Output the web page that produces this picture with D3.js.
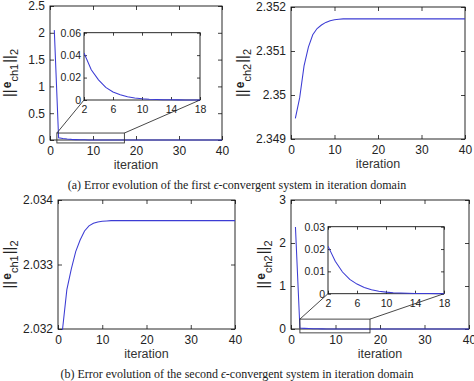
<!DOCTYPE html>
<html><head><meta charset="utf-8">
<script src="https://cdn.jsdelivr.net/npm/d3@7"></script>
<style>
body{margin:0;background:#fff;}
svg{display:block;}
</style></head>
<body>
<svg id="c" width="474" height="381"></svg>
<script>
// ---------------- DATA ----------------
const iterations = [1,2,3,4,5,6,7,8,9,10,11,12,13,14,15,16,17,18,19,20,
  21,22,23,24,25,26,27,28,29,30,31,32,33,34,35,36,37,38,39,40];

// (a) first system, ||e_ch1||_2
const ech1A = [2.05,0.042,0.027,0.018,0.0113,0.0072,0.0047,0.0029,0.0018,0.0011,
  0.0007,0.00045,0.0003,0.0002,0.00012,0.00008,0.00005,0.00003,0.00002,0.00001,
  0,0,0,0,0,0,0,0,0,0,0,0,0,0,0,0,0,0,0,0];
// (a) first system, ||e_ch2||_2
const ech2A = [2.34947,2.34994,2.35066,2.35109,2.35137,2.35151,2.35159,2.35165,2.35169,2.35171,
  2.35172,2.35173,2.35173,2.35173,2.35173,2.35173,2.35173,2.35173,2.35173,2.35173,
  2.35173,2.35173,2.35173,2.35173,2.35173,2.35173,2.35173,2.35173,2.35173,2.35173,
  2.35173,2.35173,2.35173,2.35173,2.35173,2.35173,2.35173,2.35173,2.35173,2.35173];
// (b) second system, ||e_ch1||_2
const ech1B = [2.03198,2.03261,2.03293,2.03320,2.03338,2.03352,2.03360,2.03364,2.03366,2.03367,
  2.033675,2.03368,2.03368,2.03368,2.03368,2.03368,2.03368,2.03368,2.03368,2.03368,
  2.03368,2.03368,2.03368,2.03368,2.03368,2.03368,2.03368,2.03368,2.03368,2.03368,
  2.03368,2.03368,2.03368,2.03368,2.03368,2.03368,2.03368,2.03368,2.03368,2.03368];
// (b) second system, ||e_ch2||_2
const ech2B = [2.37,0.0213,0.0145,0.0097,0.0064,0.0043,0.0028,0.0018,0.0011,0.0007,
  0.00045,0.0003,0.0002,0.00012,0.00008,0.00005,0.00003,0.00002,0.00001,0,
  0,0,0,0,0,0,0,0,0,0,0,0,0,0,0,0,0,0,0,0];

const xTicks = [0,10,20,30,40];
const insetXTicks = [2,6,10,14,18];
const yTicksA1 = [0,0.5,1,1.5,2,2.5];
const yTicksA2 = [2.349,2.35,2.351,2.352];
const yTicksB1 = [2.032,2.033,2.034];
const yTicksB2 = [0,1,2,3];
const insetYTicksA = [0,0.02,0.04,0.06];
const insetYTicksB = [0,0.01,0.02,0.03];
const captions = [
  "(a) Error evolution of the first ",
  "-convergent system in iteration domain",
  "(b) Error evolution of the second "
];

// ---------------- DRAWING ----------------
const svg = d3.select("#c");
const SANS = "'Liberation Sans', Arial, sans-serif";
const SERIF = "'Liberation Serif', 'Times New Roman', serif";
const LINE = "#3c3cd4";
let clipId = 0;

function drawAxes(g, x, y, xt, yt, fs, padX, padY, tick) {
  const [x0,x1] = x.range(), [y0,y1] = y.range();
  const fmt = d => String(+d.toFixed(4));
  const mk = (ax, tr, labels, pad) => {
    const a = g.append("g").attr("transform", tr).call(ax.tickSize(-tick).tickPadding(pad).tickFormat(labels ? fmt : ""));
    a.select(".domain").remove();
    a.selectAll("line").attr("stroke","#111").attr("stroke-width",0.8);
    a.selectAll("text").attr("font-family",SANS).attr("font-size",fs).attr("fill","#222");
  };
  mk(d3.axisBottom(x).tickValues(xt), `translate(0,${y0})`, true, padX);
  mk(d3.axisTop(x).tickValues(xt), `translate(0,${y1})`, false, 0);
  mk(d3.axisLeft(y).tickValues(yt), `translate(${x0},0)`, true, padY);
  mk(d3.axisRight(y).tickValues(yt), `translate(${x1},0)`, false, 0);
  g.append("rect").attr("x",x0).attr("y",y1).attr("width",x1-x0).attr("height",y0-y1)
    .attr("fill","none").attr("stroke","#111").attr("stroke-width",0.9);
}

function drawLine(g, x, y, xs, ys) {
  const id = "clip"+(clipId++);
  const [x0,x1] = x.range(), [y0,y1] = y.range();
  svg.append("defs").append("clipPath").attr("id",id).append("rect")
    .attr("x",x0).attr("y",y1-1).attr("width",x1-x0).attr("height",y0-y1+2);
  const pts = xs.map((v,i)=>[v, ys[i]]).filter(p => p[0] >= x.domain()[0] && p[0] <= x.domain()[1]);
  g.append("path").attr("clip-path",`url(#${id})`)
    .attr("d", d3.line().x(d=>x(d[0])).y(d=>y(d[1]))(pts))
    .attr("fill","none").attr("stroke",LINE).attr("stroke-width",1.05);
}

function yLabel(g, cx, cy, sub) {
  const t = g.append("text").attr("transform",`translate(${cx},${cy}) rotate(-90)`)
    .attr("text-anchor","middle").attr("font-family",SANS).attr("fill","#222");
  t.append("tspan").attr("font-size",15).text("||");
  t.append("tspan").attr("font-size",12).attr("font-weight","bold").attr("dx",1).attr("dy",-3).text("e");
  t.append("tspan").attr("font-size",11).attr("dy",7).text(sub);
  t.append("tspan").attr("font-size",15).attr("dx",1).attr("dy",-4).text("||");
  t.append("tspan").attr("font-size",11).attr("dy",4).text("2");
}

function xLabel(g, cx, cy) {
  g.append("text").attr("x",cx).attr("y",cy).attr("text-anchor","middle")
    .attr("font-family",SANS).attr("font-size",12.5).attr("fill","#333").text("iteration");
}

function panel(opt) {
  const g = svg.append("g");
  const x = d3.scaleLinear().domain([0,40]).range([opt.box[0], opt.box[1]]);
  const y = d3.scaleLinear().domain(opt.ydom).range([opt.box[3], opt.box[2]]);
  drawAxes(g, x, y, xTicks, opt.yticks, 12, 6, 5, 4);
  drawLine(g, x, y, iterations, opt.values);
  xLabel(g, (opt.box[0]+opt.box[1])/2, opt.box[3]+29);
  yLabel(g, opt.ylx, (opt.box[2]+opt.box[3])/2, opt.sub);
  if (opt.inset) {
    const ins = opt.inset;
    const r = ins.rect;
    g.append("rect").attr("x",x(r[0])).attr("y",y(r[3])).attr("width",x(r[1])-x(r[0])).attr("height",y(r[2])-y(r[3]))
      .attr("fill","none").attr("stroke","#333").attr("stroke-width",0.9);
    const ix = d3.scaleLinear().domain([2,18]).range([ins.box[0], ins.box[1]]);
    const iy = d3.scaleLinear().domain(ins.ydom).range([ins.box[3], ins.box[2]]);
    g.append("line").attr("x1",x(r[0])).attr("y1",y(r[3])).attr("x2",ins.box[0]).attr("y2",ins.box[3])
      .attr("stroke","#333").attr("stroke-width",0.9);
    g.append("line").attr("x1",x(r[1])).attr("y1",y(r[3])).attr("x2",ins.box[1]).attr("y2",ins.box[3])
      .attr("stroke","#333").attr("stroke-width",0.9);
    g.append("rect").attr("x",ins.box[0]).attr("y",ins.box[2]).attr("width",ins.box[1]-ins.box[0])
      .attr("height",ins.box[3]-ins.box[2]).attr("fill","#fff");
    drawAxes(g, ix, iy, insetXTicks, ins.yticks, 10.5, 6, 3, 3);
    drawLine(g, ix, iy, iterations, opt.values);
  }
}

panel({box:[50,222,6,140], ydom:[0,2.5], yticks:yTicksA1, values:ech1A, ylx:14, sub:"ch1",
  inset:{box:[84,200,32.7,100], ydom:[0,0.06], yticks:insetYTicksA, rect:[1.6,17.3,-0.055,0.13]}});
panel({box:[291,465,7,139], ydom:[2.349,2.352], yticks:yTicksA2, values:ech2A, ylx:247, sub:"ch2"});
panel({box:[58,235,200,329], ydom:[2.032,2.034], yticks:yTicksB1, values:ech1B, ylx:14, sub:"ch1"});
panel({box:[291,469,200,329], ydom:[0,3], yticks:yTicksB2, values:ech2B, ylx:268, sub:"ch2",
  inset:{box:[328,444,226.7,293.7], ydom:[0,0.03], yticks:insetYTicksB, rect:[2.0,17.75,-0.09,0.23]}});

function caption(cx, by, first) {
  const t = svg.append("text").attr("x",cx).attr("y",by).attr("text-anchor","middle")
    .attr("font-family",SERIF).attr("font-size",12).attr("fill","#1a1a1a");
  t.append("tspan").text(first);
  t.append("tspan").attr("font-style","italic").text("\u03F5");
  t.append("tspan").text(captions[1]);
}
caption(237, 189, captions[0]);
caption(237, 378, captions[2]);
</script>
</body></html>
